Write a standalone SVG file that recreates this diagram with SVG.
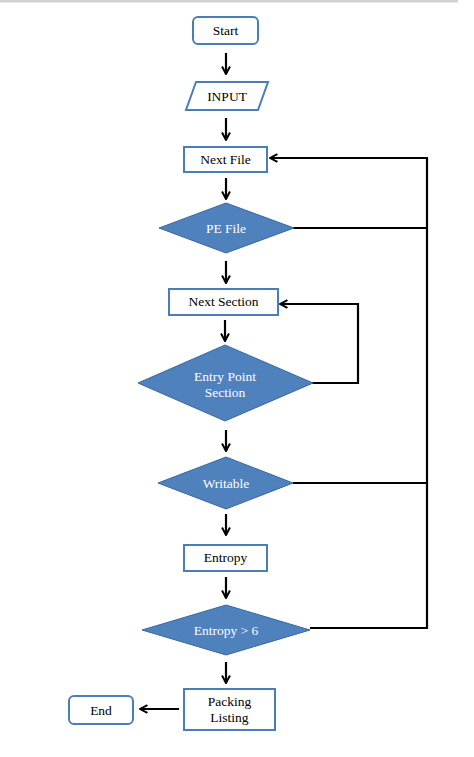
<svg xmlns="http://www.w3.org/2000/svg" width="474" height="757" viewBox="0 0 474 757">
<defs>
<marker id="ah" viewBox="0 0 10 10" refX="8.5" refY="5" markerWidth="4.5" markerHeight="4.5" markerUnits="strokeWidth" orient="auto">
<path d="M1,1 L8.5,5 L1,9" fill="none" stroke="#000" stroke-width="2"/>
</marker>
<style>
.box{fill:#fff;stroke:#4a7ebb;stroke-width:2}
.dia{fill:#4f81bd;stroke:#3a689f;stroke-width:1}
.t{font-size:13.5px;fill:#000;text-anchor:middle}
.tw{font-size:13.5px;fill:#fff;text-anchor:middle}
.c{fill:none;stroke:#000;stroke-width:2.2}
</style>
</defs>
<rect x="0" y="0" width="458" height="2.5" fill="#d2d2d2"/>
<g id="connectors">
<line class="c" x1="226" y1="53" x2="226" y2="74" marker-end="url(#ah)"/>
<line class="c" x1="226" y1="118" x2="226" y2="140" marker-end="url(#ah)"/>
<line class="c" x1="226" y1="178" x2="226" y2="199" marker-end="url(#ah)"/>
<line class="c" x1="226" y1="261" x2="226" y2="283" marker-end="url(#ah)"/>
<line class="c" x1="225" y1="320" x2="225" y2="341" marker-end="url(#ah)"/>
<line class="c" x1="226" y1="430" x2="226" y2="451" marker-end="url(#ah)"/>
<line class="c" x1="226" y1="514" x2="226" y2="535" marker-end="url(#ah)"/>
<line class="c" x1="226" y1="577" x2="226" y2="598" marker-end="url(#ah)"/>
<line class="c" x1="226" y1="662" x2="226" y2="683" marker-end="url(#ah)"/>
<line class="c" x1="179" y1="709" x2="140" y2="709" marker-end="url(#ah)"/>
<polyline class="c" points="293,228 427,228"/>
<polyline class="c" points="293,483 427,483"/>
<polyline class="c" points="310,628 427,628 427,158 270,158" marker-end="url(#ah)"/>
<polyline class="c" points="312,383 358,383 358,304 280,304" marker-end="url(#ah)"/>
</g>
<g font-family="'Liberation Serif', 'Times New Roman', 'DejaVu Serif', serif">
<g id="start">
<rect class="box" x="193" y="17" width="65" height="27" rx="5"/>
<text class="t" x="225.5" y="35">Start</text>
</g>
<g id="input">
<polygon class="box" points="196,82 268,82 258,110 186,110"/>
<text class="t" x="227" y="101">INPUT</text>
</g>
<g id="next-file">
<rect class="box" x="184" y="147" width="83" height="25"/>
<text class="t" x="225.5" y="164">Next File</text>
</g>
<g id="pe-file">
<polygon class="dia" points="226,203 294,228 226,253 159,228"/>
<text class="tw" x="226" y="233">PE File</text>
</g>
<g id="next-section">
<rect class="box" x="169" y="289" width="109" height="26"/>
<text class="t" x="223.5" y="306">Next Section</text>
</g>
<g id="entry-point">
<polygon class="dia" points="225,345 313,383 225,421 138,383"/>
<text class="tw" x="225" y="381">Entry Point</text>
<text class="tw" x="225" y="397">Section</text>
</g>
<g id="writable">
<polygon class="dia" points="226,457 293,483 226,509 158,483"/>
<text class="tw" x="226" y="488">Writable</text>
</g>
<g id="entropy">
<rect class="box" x="184" y="545" width="83" height="26"/>
<text class="t" x="225.5" y="562">Entropy</text>
</g>
<g id="entropy-gt6">
<polygon class="dia" points="226,605 310,630 226,655 142,630"/>
<text class="tw" x="226" y="635">Entropy &gt; 6</text>
</g>
<g id="packing-listing">
<rect class="box" x="184" y="689" width="91" height="41"/>
<text class="t" x="229.5" y="706">Packing</text>
<text class="t" x="229.5" y="722">Listing</text>
</g>
<g id="end">
<rect class="box" x="69" y="696" width="64" height="28" rx="5"/>
<text class="t" x="101" y="715">End</text>
</g>
</g>
</svg>
